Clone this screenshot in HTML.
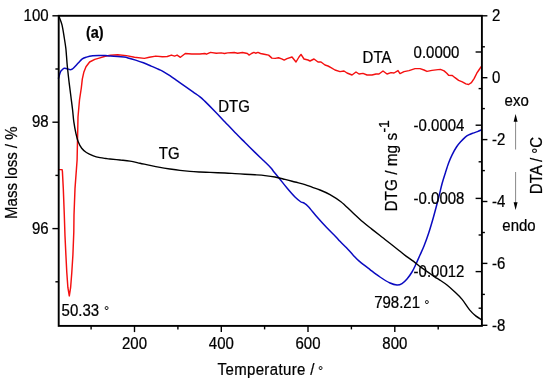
<!DOCTYPE html>
<html><head><meta charset="utf-8"><style>
html,body{margin:0;padding:0;background:#fff;}
svg{display:block;}
text{font-family:"Liberation Sans",Arial,sans-serif;font-size:15px;fill:#000;stroke:#000;stroke-width:0.22px;}
</style></head><body>
<svg width="550" height="385" viewBox="0 0 550 385">
<rect width="550" height="385" fill="#fff"/>
<g fill="none" stroke-linejoin="round" stroke-linecap="round">
<polyline points="58.8,169.6 62.1,169.6 62.4,171.4 63.3,188.6 64.3,215.0 65.0,236.0 65.9,255.0 66.8,272.5 67.9,287.7 69.3,295.9 70.6,287.7 71.8,272.5 72.9,255.0 73.8,232.0 74.0,215.0 75.0,188.6 77.1,160.0 78.0,117.0 79.5,100.0 81.3,88.0 82.3,79.2 83.9,71.9 86.0,66.7 89.6,62.0 94.8,59.4 100.0,57.9 105.2,56.3 110.4,55.3 117.7,54.8 126.4,55.6 134.5,57.3 144.4,58.4 149.3,57.3 155.8,56.1 162.4,56.8 167.3,56.5 171.4,55.1 174.6,56.1 177.1,55.1 180.4,57.3 185.3,53.5 191.8,54.0 195.0,54.0 199.9,54.0 204.8,53.5 206.5,54.2 210.5,52.4 216.3,53.2 221.2,52.9 224.5,53.5 227.7,52.9 234.3,52.5 237.6,53.2 242.5,52.5 247.4,53.5 249.0,55.1 251.5,53.5 253.9,52.4 255.6,53.2 258.0,52.4 260.5,53.5 265.4,54.5 268.6,55.1 271.9,58.1 275.2,58.4 278.5,57.8 281.7,58.9 284.2,60.1 287.0,58.6 292.0,57.0 296.0,62.0 299.0,57.0 301.0,54.4 304.0,59.0 308.0,60.0 310.0,61.0 314.0,59.0 318.0,62.0 321.0,62.0 325.0,65.0 328.0,66.0 331.0,67.6 335.0,70.0 340.0,71.6 344.0,71.0 347.0,73.0 352.0,75.0 356.0,72.0 359.0,74.0 363.0,73.4 367.0,75.0 372.0,75.0 376.0,74.0 379.0,74.0 383.0,71.0 387.0,74.0 391.0,72.6 394.0,73.0 398.0,70.6 400.0,73.6 404.0,71.6 409.0,70.6 415.0,68.6 420.0,68.6 424.0,70.0 427.0,71.4 432.0,70.4 438.0,69.6 440.5,69.4 444.1,70.9 446.8,73.2 448.6,75.2 452.3,75.5 455.0,77.7 458.6,80.3 462.3,81.8 465.9,83.9 468.6,84.5 471.4,82.7 474.1,78.6 476.8,73.2 478.6,70.5 481.0,66.8" stroke="#f41010" stroke-width="1.45"/>
<path d="M58.50,78.20 C58.83,77.13 59.92,73.17 60.50,71.80 C61.08,70.43 61.38,70.60 62.00,70.00 C62.62,69.40 63.38,68.42 64.20,68.20 C65.02,67.98 66.00,68.48 66.90,68.70 C67.80,68.92 68.92,69.35 69.60,69.50 C70.28,69.65 70.38,69.82 71.00,69.60 C71.62,69.38 72.10,69.28 73.30,68.20 C74.50,67.12 76.70,64.65 78.20,63.10 C79.70,61.55 80.92,59.90 82.30,58.90 C83.68,57.90 84.77,57.62 86.50,57.10 C88.23,56.58 90.45,56.07 92.70,55.80 C94.95,55.53 97.92,55.55 100.00,55.50 C102.08,55.45 103.47,55.40 105.20,55.50 C106.93,55.60 108.32,55.95 110.40,56.10 C112.48,56.25 115.43,56.23 117.70,56.40 C119.97,56.57 122.28,56.85 124.00,57.10 C125.72,57.35 126.07,57.40 128.00,57.90 C129.93,58.40 133.03,59.28 135.60,60.10 C138.17,60.92 140.80,61.80 143.40,62.80 C146.00,63.80 148.60,64.98 151.20,66.10 C153.80,67.22 156.92,68.55 159.00,69.50 C161.08,70.45 161.88,70.77 163.70,71.80 C165.52,72.83 167.57,74.13 169.90,75.70 C172.23,77.27 175.10,79.37 177.70,81.20 C180.30,83.03 182.90,84.88 185.50,86.70 C188.10,88.52 190.88,90.42 193.30,92.10 C195.72,93.78 198.05,95.25 200.00,96.80 C201.95,98.35 202.50,98.95 205.00,101.40 C207.50,103.85 211.67,108.07 215.00,111.50 C218.33,114.93 221.67,118.50 225.00,122.00 C228.33,125.50 231.67,129.08 235.00,132.50 C238.33,135.92 242.50,140.00 245.00,142.50 C247.50,145.00 247.50,145.03 250.00,147.50 C252.50,149.97 257.50,154.88 260.00,157.30 C262.50,159.72 263.17,160.22 265.00,162.00 C266.83,163.78 269.50,166.33 271.00,168.00 C272.50,169.67 272.67,170.33 274.00,172.00 C275.33,173.67 276.83,175.33 279.00,178.00 C281.17,180.67 284.33,184.83 287.00,188.00 C289.67,191.17 292.67,194.67 295.00,197.00 C297.33,199.33 299.50,201.00 301.00,202.00 C302.50,203.00 302.80,202.27 304.00,203.00 C305.20,203.73 305.98,204.02 308.20,206.40 C310.42,208.78 314.27,213.82 317.30,217.30 C320.33,220.78 323.37,224.12 326.40,227.30 C329.43,230.48 333.23,234.07 335.50,236.40 C337.77,238.73 338.17,239.40 340.00,241.30 C341.83,243.20 344.33,245.53 346.50,247.80 C348.67,250.07 350.83,252.63 353.00,254.90 C355.17,257.17 356.67,258.95 359.50,261.40 C362.33,263.85 366.58,267.00 370.00,269.60 C373.42,272.20 376.67,274.77 380.00,277.00 C383.33,279.23 387.17,281.67 390.00,283.00 C392.83,284.33 395.00,284.90 397.00,285.00 C399.00,285.10 400.33,284.60 402.00,283.60 C403.67,282.60 405.33,280.93 407.00,279.00 C408.67,277.07 410.50,274.50 412.00,272.00 C413.50,269.50 414.67,266.83 416.00,264.00 C417.33,261.17 418.67,258.00 420.00,255.00 C421.33,252.00 422.55,249.67 424.00,246.00 C425.45,242.33 427.08,237.97 428.70,233.00 C430.32,228.03 432.02,222.20 433.70,216.20 C435.38,210.20 437.40,202.45 438.80,197.00 C440.20,191.55 440.98,187.60 442.10,183.50 C443.22,179.40 444.38,175.90 445.50,172.40 C446.62,168.90 447.70,165.43 448.80,162.50 C449.90,159.57 450.82,157.38 452.10,154.80 C453.38,152.22 455.03,149.22 456.50,147.00 C457.97,144.78 459.43,143.15 460.90,141.50 C462.37,139.85 464.00,138.20 465.30,137.10 C466.60,136.00 467.40,135.57 468.70,134.90 C470.00,134.23 471.63,133.65 473.10,133.10 C474.57,132.55 476.15,132.12 477.50,131.60 C478.85,131.08 480.58,130.27 481.20,130.00" stroke="#0a0ac0" stroke-width="1.5"/>
<path d="M58.70,15.80 C58.77,15.95 58.55,15.18 59.10,16.70 C59.65,18.22 61.13,21.35 62.00,24.90 C62.87,28.45 63.67,34.15 64.30,38.00 C64.93,41.85 65.43,45.00 65.80,48.00 C66.17,51.00 66.25,53.00 66.50,56.00 C66.75,59.00 66.88,61.75 67.30,66.00 C67.72,70.25 68.40,76.42 69.00,81.50 C69.60,86.58 70.30,91.75 70.90,96.50 C71.50,101.25 72.12,105.80 72.60,110.00 C73.08,114.20 73.25,117.80 73.80,121.70 C74.35,125.60 75.17,130.05 75.90,133.40 C76.63,136.75 77.23,139.33 78.20,141.80 C79.17,144.27 80.33,146.42 81.70,148.20 C83.07,149.98 84.45,151.23 86.40,152.50 C88.35,153.77 91.13,154.95 93.40,155.80 C95.67,156.65 97.90,157.15 100.00,157.60 C102.10,158.05 104.33,158.27 106.00,158.50 C107.67,158.73 107.67,158.75 110.00,159.00 C112.33,159.25 116.67,159.65 120.00,160.00 C123.33,160.35 126.67,160.57 130.00,161.10 C133.33,161.63 136.67,162.48 140.00,163.20 C143.33,163.92 146.67,164.70 150.00,165.40 C153.33,166.10 156.67,166.80 160.00,167.40 C163.33,168.00 166.67,168.50 170.00,169.00 C173.33,169.50 176.67,170.00 180.00,170.40 C183.33,170.80 186.67,171.13 190.00,171.40 C193.33,171.67 196.67,171.83 200.00,172.00 C203.33,172.17 205.83,172.23 210.00,172.40 C214.17,172.57 220.83,172.80 225.00,173.00 C229.17,173.20 231.67,173.40 235.00,173.60 C238.33,173.80 241.67,174.00 245.00,174.20 C248.33,174.40 251.67,174.57 255.00,174.80 C258.33,175.03 261.67,175.23 265.00,175.60 C268.33,175.97 271.67,176.37 275.00,177.00 C278.33,177.63 281.67,178.57 285.00,179.40 C288.33,180.23 291.67,181.13 295.00,182.00 C298.33,182.87 302.17,183.73 305.00,184.60 C307.83,185.47 309.50,186.30 312.00,187.20 C314.50,188.10 317.00,188.77 320.00,190.00 C323.00,191.23 326.52,192.63 330.00,194.60 C333.48,196.57 337.27,198.93 340.90,201.80 C344.53,204.67 348.17,208.47 351.80,211.80 C355.43,215.13 359.37,218.92 362.70,221.80 C366.03,224.68 368.92,226.82 371.80,229.10 C374.68,231.38 377.80,233.77 380.00,235.50 C382.20,237.23 382.98,237.92 385.00,239.50 C387.02,241.08 389.72,243.13 392.10,245.00 C394.48,246.87 396.92,248.80 399.30,250.70 C401.68,252.60 404.02,254.62 406.40,256.40 C408.78,258.18 411.22,259.62 413.60,261.40 C415.98,263.18 418.32,265.32 420.70,267.10 C423.08,268.88 425.52,270.43 427.90,272.10 C430.28,273.77 433.07,275.82 435.00,277.10 C436.93,278.38 437.50,278.48 439.50,279.80 C441.50,281.12 444.48,283.00 447.00,285.00 C449.52,287.00 452.08,289.40 454.60,291.80 C457.12,294.20 459.60,296.38 462.10,299.40 C464.60,302.42 467.33,307.15 469.60,309.90 C471.87,312.65 473.68,314.27 475.70,315.90 C477.72,317.53 480.70,319.07 481.70,319.70" stroke="#000" stroke-width="1.4"/>
</g>
<rect x="58.7" y="15.8" width="423.2" height="310.1" fill="none" stroke="#000" stroke-width="1.9"/>
<g stroke="#000" stroke-width="1.4">
<line x1="52.4" y1="15.8" x2="58.7" y2="15.8"/>
<line x1="52.4" y1="122.2" x2="58.7" y2="122.2"/>
<line x1="52.4" y1="228.6" x2="58.7" y2="228.6"/>
<line x1="55.4" y1="69.0" x2="58.7" y2="69.0"/>
<line x1="55.4" y1="175.4" x2="58.7" y2="175.4"/>
<line x1="55.4" y1="281.8" x2="58.7" y2="281.8"/>
<line x1="134.5" y1="325.9" x2="134.5" y2="332.1"/>
<line x1="221.3" y1="325.9" x2="221.3" y2="332.1"/>
<line x1="308.0" y1="325.9" x2="308.0" y2="332.1"/>
<line x1="394.8" y1="325.9" x2="394.8" y2="332.1"/>
<line x1="91.1" y1="325.9" x2="91.1" y2="329.4"/>
<line x1="177.9" y1="325.9" x2="177.9" y2="329.4"/>
<line x1="264.6" y1="325.9" x2="264.6" y2="329.4"/>
<line x1="351.4" y1="325.9" x2="351.4" y2="329.4"/>
<line x1="438.2" y1="325.9" x2="438.2" y2="329.4"/>
<line x1="481.95" y1="15.8" x2="487.4" y2="15.8"/>
<line x1="481.95" y1="77.7" x2="487.4" y2="77.7"/>
<line x1="481.95" y1="139.6" x2="487.4" y2="139.6"/>
<line x1="481.95" y1="201.5" x2="487.4" y2="201.5"/>
<line x1="481.95" y1="263.4" x2="487.4" y2="263.4"/>
<line x1="481.95" y1="325.3" x2="487.4" y2="325.3"/>
<line x1="481.95" y1="46.8" x2="484.9" y2="46.8"/>
<line x1="481.95" y1="108.6" x2="484.9" y2="108.6"/>
<line x1="481.95" y1="170.6" x2="484.9" y2="170.6"/>
<line x1="481.95" y1="232.5" x2="484.9" y2="232.5"/>
<line x1="481.95" y1="294.4" x2="484.9" y2="294.4"/>
<line x1="475.6" y1="52.0" x2="481.95" y2="52.0"/>
<line x1="475.6" y1="125.2" x2="481.95" y2="125.2"/>
<line x1="475.6" y1="198.4" x2="481.95" y2="198.4"/>
<line x1="475.6" y1="271.6" x2="481.95" y2="271.6"/>
<line x1="478.6" y1="88.6" x2="481.95" y2="88.6"/>
<line x1="478.6" y1="161.8" x2="481.95" y2="161.8"/>
<line x1="478.6" y1="235.0" x2="481.95" y2="235.0"/>
<line x1="478.6" y1="308.2" x2="481.95" y2="308.2"/>
</g>
<text transform="translate(48.6,20.9) scale(1,1.1)" text-anchor="end">100</text>
<text transform="translate(48.6,127.3) scale(1,1.1)" text-anchor="end">98</text>
<text transform="translate(48.6,233.7) scale(1,1.1)" text-anchor="end">96</text>
<text transform="translate(134.5,348.8) scale(1,1.1)" text-anchor="middle">200</text>
<text transform="translate(221.3,348.8) scale(1,1.1)" text-anchor="middle">400</text>
<text transform="translate(308.0,348.8) scale(1,1.1)" text-anchor="middle">600</text>
<text transform="translate(394.8,348.8) scale(1,1.1)" text-anchor="middle">800</text>
<text transform="translate(492.0,21.1) scale(1,1.1)" text-anchor="start">2</text>
<text transform="translate(492.0,83.0) scale(1,1.1)" text-anchor="start">0</text>
<text transform="translate(492.0,144.9) scale(1,1.1)" text-anchor="start">-2</text>
<text transform="translate(492.0,206.8) scale(1,1.1)" text-anchor="start">-4</text>
<text transform="translate(492.0,268.7) scale(1,1.1)" text-anchor="start">-6</text>
<text transform="translate(492.0,330.6) scale(1,1.1)" text-anchor="start">-8</text>
<text transform="translate(413.6,57.5) scale(1,1.1)" text-anchor="start">0.0000</text>
<text transform="translate(413.6,130.7) scale(1,1.1)" text-anchor="start">-0.0004</text>
<text transform="translate(413.6,203.9) scale(1,1.1)" text-anchor="start">-0.0008</text>
<text transform="translate(413.6,277.1) scale(1,1.1)" text-anchor="start">-0.0012</text>
<text transform="translate(85.9,38.1) scale(1,1.1)" text-anchor="start" style="font-weight:bold;font-size:14.5px">(a)</text>
<text transform="translate(158.8,159.1) scale(1,1.1)" text-anchor="start">TG</text>
<text transform="translate(218.3,111.5) scale(1,1.1)" text-anchor="start">DTG</text>
<text transform="translate(362.6,62.8) scale(1,1.1)" text-anchor="start">DTA</text>
<text transform="translate(61.6,315.5) scale(1,1.1)" text-anchor="start">50.33</text>
<text transform="translate(104.0,315.9) scale(1,1.1)" text-anchor="start" style="font-size:13px;stroke-width:0.1px">°</text>
<text transform="translate(374.2,308.1) scale(1,1.1)" text-anchor="start">798.21</text>
<text transform="translate(424.2,309.5) scale(1,1.1)" text-anchor="start" style="font-size:13px;stroke-width:0.1px">°</text>
<text transform="translate(217.6,374.9) scale(1,1.1)" text-anchor="start" style="letter-spacing:0.36px">Temperature /</text>
<text transform="translate(318.1,375.5) scale(1,1.1)" text-anchor="start" style="font-size:13px;stroke-width:0.1px">°</text>
<text transform="translate(504.6,105.7) scale(1,1.1)" text-anchor="start">exo</text>
<text transform="translate(502.3,231.2) scale(1,1.1)" text-anchor="start">endo</text>
<text transform="translate(17.2,172.7) rotate(-90) scale(1,1.1)" text-anchor="middle">Mass loss / %</text>
<text transform="translate(542.0,165.5) rotate(-90) scale(1,1.1)" text-anchor="middle">DTA / <tspan dy="1.8">°</tspan><tspan dy="-1.8">C</tspan></text>
<text transform="translate(397.0,211.5) rotate(-90) scale(1,1.075)" text-anchor="start" style="font-size:15.4px">DTG / mg s<tspan style="font-size:14px" dx="0.3" dy="-7.2">-1</tspan></text>
<g stroke="#888" stroke-width="1.0"><line x1="515.6" y1="120" x2="515.6" y2="149.5"/><line x1="515.6" y1="172" x2="515.6" y2="203"/></g>
<path d="M515.6,114 L513.6,121.8 L517.6,121.8 Z" fill="#000"/>
<path d="M515.6,210 L513.6,202.2 L517.6,202.2 Z" fill="#000"/>
</svg>
</body></html>
